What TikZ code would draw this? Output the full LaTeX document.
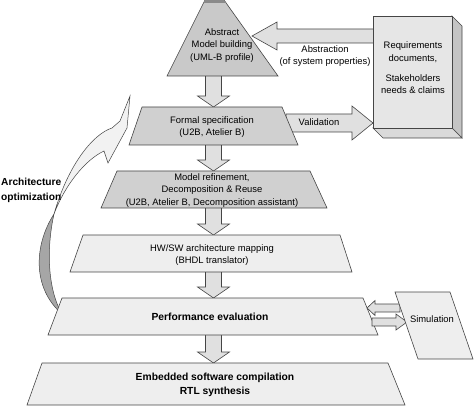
\documentclass[tikz,border=0pt]{standalone}
\usepackage{fontspec}
\setmainfont{Liberation Sans}
\usetikzlibrary{calc}
\definecolor{edge}{HTML}{454545}
\definecolor{fillA}{HTML}{D0D0D0}
\definecolor{fillB}{HTML}{EEEEEE}
\definecolor{trifill}{HTML}{C9C9C9}
\definecolor{capfill}{HTML}{8A8A8A}
\definecolor{arrowfill}{HTML}{E0E0E0}
\definecolor{boxfront}{HTML}{E6E6E6}
\definecolor{boxside}{HTML}{C4C4C4}
\definecolor{boxbottom}{HTML}{DADADA}
\definecolor{ribbonlight}{HTML}{F2F2F2}
\definecolor{ribbondark}{HTML}{A6A6A6}
\tikzset{
  shapeA/.style={draw=edge, fill=fillA, line width=0.6pt},
  shapeB/.style={draw=edge, fill=fillB, line width=0.6pt},
  blk/.style={draw=edge, fill=arrowfill, line width=0.6pt},
  lbl/.style={inner sep=0pt, align=center, font=\fontsize{9.4}{12.4}\selectfont},
  lblbig/.style={inner sep=0pt, align=center, font=\bfseries\fontsize{10.3}{14}\selectfont},
}
% vertical block arrow: #1 tail (top), #2 tip (bottom), same x
\newcommand\blkV[2]{\path[blk] ($(#1)+(-8,0)$) -- ($(#2)+(-8,-11)$) -- ($(#2)+(-16,-11)$) -- (#2) -- ($(#2)+(16,-11)$) -- ($(#2)+(8,-11)$) -- ($(#1)+(8,0)$) -- cycle;}
% horizontal block arrow: #1 tail, #2 tip, #3 half shaft, #4 half head, #5 signed head length
\newcommand\blkH[5]{\path[blk] ($(#1)+(0,-#3)$) -- ($(#2)+(-#5,-#3)$) -- ($(#2)+(-#5,-#4)$) -- (#2) -- ($(#2)+(-#5,#4)$) -- ($(#2)+(-#5,#3)$) -- ($(#1)+(0,#3)$) -- cycle;}
\begin{document}
\begin{tikzpicture}[x=1pt,y=-1pt]
\useasboundingbox (0,0) rectangle (474,406);

% ---- anchor coordinates ----
\coordinate (tri-s) at (213.5,74);
\coordinate (fs-n) at (213.5,107);
\coordinate (fs-s) at (213.5,143);
\coordinate (mr-n) at (213.5,171);
\coordinate (mr-s) at (213.5,206);
\coordinate (hw-n) at (213.5,235);
\coordinate (hw-s) at (213.5,270);
\coordinate (pe-n) at (213.5,298);
\coordinate (pe-s) at (213.5,333);
\coordinate (em-n) at (213.5,363);
\coordinate (req-w) at (375,36);
\coordinate (tri-e) at (252,36);
\coordinate (fs-e) at (286,123);
\coordinate (req-w2) at (373,123);
\coordinate (pe-e1) at (367,308);
\coordinate (sim-w1) at (400,308);
\coordinate (pe-e2) at (372,322);
\coordinate (sim-w2) at (407,322);

% ---- architecture optimization ribbon ----
\path[draw=edge, fill=ribbondark, line width=0.5pt]
  (54,214) .. controls (34,245) and (32,288) .. (62,314)
  .. controls (48,290) and (46,250) .. (54,214) -- cycle;
\path[draw=edge, fill=ribbonlight, line width=0.5pt]
  (54,214) .. controls (68,165) and (93,134) .. (112,128)
  -- (120,121) -- (130,96) -- (127,128) -- (108,163) -- (104,151)
  .. controls (85,160) and (65,185) .. (54,214) -- cycle;

% ---- block arrows ----
\blkV{tri-s}{fs-n}
\blkV{fs-s}{mr-n}
\blkV{mr-s}{hw-n}
\blkV{hw-s}{pe-n}
\blkV{pe-s}{em-n}
\blkH{req-w}{tri-e}{7}{14}{-25}
\blkH{fs-e}{req-w2}{9}{17}{21}

% ---- abstract model building (triangle) ----
\path[draw=edge, fill=trifill, line width=0.6pt] (205,0) -- (224,0) -- (278,76) -- (167,76) -- cycle;
\path[fill=capfill] (205,0) -- (224,0) -- (226,3) -- (203.5,3) -- cycle;
\node[lbl] (tri) at (222,45.5) {Abstract\\Model building\\(UML-B profile)};

% ---- requirements box ----
\path[draw=edge, fill=boxside, line width=0.6pt] (452,16) -- (462,26) -- (462,138) -- (452,128) -- cycle;
\path[draw=edge, fill=boxbottom, line width=0.6pt] (373,128) -- (452,128) -- (462,138) -- (383,138) -- cycle;
\path[draw=edge, fill=boxfront, line width=0.6pt] (373,16) rectangle (452,128);
\node[lbl] (req) at (413,68) {Requirements\\documents,\\[8pt]Stakeholders\\needs \& claims};
\node[lbl] (abs) at (325,56) {Abstraction\\(of system properties)};

% ---- trapezia ----
\path[shapeA] (142,107) -- (282,107) -- (298,145) -- (129,145) -- cycle;
\node[lbl] (fs) at (212,127) {Formal specification\\(U2B, Atelier B)};
\node[lbl] (val) at (319,122) {Validation};

\path[shapeA] (117,171) -- (310,171) -- (327,208) -- (101,208) -- cycle;
\node[lbl] (mr) at (212,190.5) {Model refinement,\\Decomposition \& Reuse\\(U2B, Atelier B, Decomposition assistant)};

\path[shapeB] (83,235) -- (340,235) -- (352,272) -- (70,272) -- cycle;
\node[lbl] (hw) at (212,255) {HW/SW architecture mapping\\(BHDL translator)};

\path[shapeB] (62,298) -- (363,298) -- (378,335) -- (48,335) -- cycle;
\node[lblbig] (pe) at (210,317) {Performance evaluation};

\path[shapeB] (42,363) -- (388,363) -- (405,405) -- (27,405) -- cycle;
\node[lblbig] (em) at (215,385) {Embedded software compilation\\RTL synthesis};

% ---- simulation ----
\blkH{sim-w1}{pe-e1}{4}{7.5}{-8}
\blkH{pe-e2}{sim-w2}{4}{8}{11}
\path[shapeB] (395,292) -- (450,292) -- (473,359) -- (418,359) -- cycle;
\node[lbl] (sim) at (432,319) {Simulation};

% ---- label of the ribbon ----
\node[inner sep=0pt, align=left, anchor=west, font=\bfseries\fontsize{10.2}{15}\selectfont] (opt) at (1,190.5) {Architecture\\optimization};
\end{tikzpicture}
\end{document}
